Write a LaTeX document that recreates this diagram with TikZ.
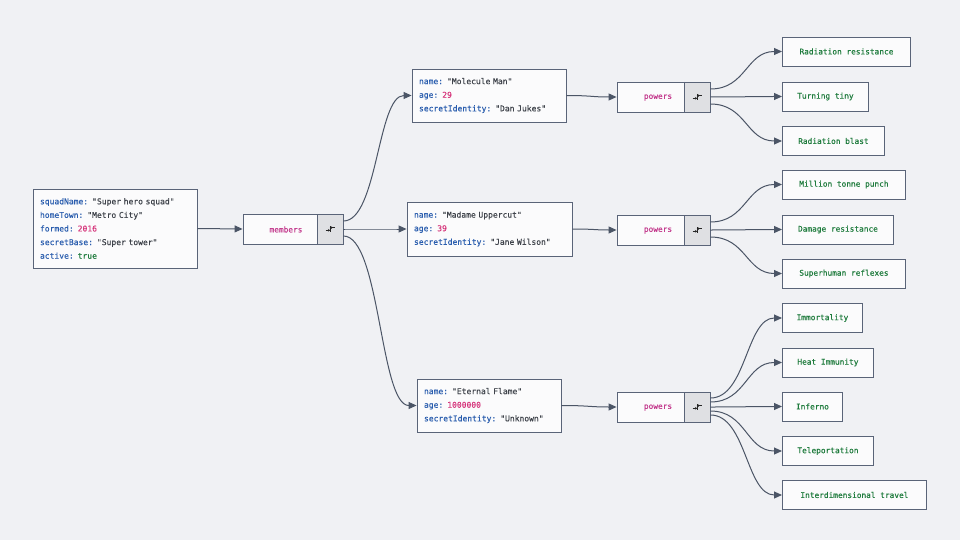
\documentclass[tikz,border=0pt]{standalone}
\usepackage{fontspec}
\newfontfamily\monof[FakeBold=0.3,WordSpace={1,0,0}]{DejaVu Sans Mono}
\usetikzlibrary{calc,arrows.meta}
\definecolor{bg}{HTML}{F0F1F4}
\definecolor{boxfill}{HTML}{FBFBFC}
\definecolor{boxline}{HTML}{5A6478}
\definecolor{togfill}{HTML}{DFE0E3}
\definecolor{edge}{HTML}{4B5566}
\definecolor{keyc}{HTML}{2A5DAE}
\definecolor{strc}{HTML}{3F434B}
\definecolor{numc}{HTML}{D6337A}
\definecolor{grn}{HTML}{1E7B3C}
\definecolor{pinkc}{HTML}{C43B8E}
\newcommand{\K}[1]{\textcolor{keyc}{#1:}}
\newcommand{\Sv}[1]{\textcolor{strc}{"#1"}}
\newcommand{\Nv}[1]{\textcolor{numc}{#1}}
\newcommand{\lnk}[3]{%
  \path ($(#1)!0.5!(#2)$) coordinate (mid#3);
  \draw[link] (#1) .. controls (mid#3 |- #1) and (mid#3 |- #2) .. (#2);}
\begin{document}
\begin{tikzpicture}[x=1pt,y=-1pt,
  box/.style={draw=boxline,fill=boxfill,line width=0.9pt,inner sep=0pt,rectangle},
  obj/.style={box,font=\monof\fontsize{8}{13.6}\selectfont,align=left,inner xsep=7pt},
  leaf/.style={box,font=\monof\fontsize{7.8}{10}\selectfont,text=grn,minimum height=29pt,anchor=west},
  arr/.style={box,minimum width=93pt,minimum height=30pt},
  link/.style={draw=edge,line width=1pt,-{Triangle[length=8pt,width=7pt]}},
  lbl/.style={font=\monof\fontsize{7.8}{10}\selectfont,text=pinkc,inner sep=0pt},
]
\useasboundingbox[fill=bg] (0,0) rectangle (960,540);

% root object
\node[obj,minimum width=164pt,minimum height=79pt,text width=150pt] (root) at (115,228.5) {%
\K{squadName} \Sv{Super hero squad}\\
\K{homeTown} \Sv{Metro City}\\
\K{formed} \Nv{2016}\\
\K{secretBase} \Sv{Super tower}\\
\K{active} \textcolor{grn}{true}};

% members array
\node[box,minimum width=100pt,minimum height=30pt] (mem) at (293,229) {};
\fill[togfill] (317,214.45) rectangle (342.55,243.55);
\draw[boxline,line width=0.9pt] (317,214) -- (317,244);
\draw[boxline,line width=0.9pt] (243,214) rectangle (343,244);
\node[lbl] (memlbl) at (286,229.5) {members};

% member objects
\node[obj,minimum width=154pt,minimum height=53pt,text width=140pt] (m1) at (489,95.5) {%
\K{name} \Sv{Molecule Man}\\
\K{age} \Nv{29}\\
\K{secretIdentity} \Sv{Dan Jukes}};
\node[obj,minimum width=165pt,minimum height=54pt,text width=151pt] (m2) at (489.5,229) {%
\K{name} \Sv{Madame Uppercut}\\
\K{age} \Nv{39}\\
\K{secretIdentity} \Sv{Jane Wilson}};
\node[obj,minimum width=144pt,minimum height=53pt,text width=130pt] (m3) at (489,405.5) {%
\K{name} \Sv{Eternal Flame}\\
\K{age} \Nv{1000000}\\
\K{secretIdentity} \Sv{Unknown}};

% powers arrays
\foreach \i/\y in {1/97,2/230,3/407}{
  \node[arr] (p\i) at (663.5,\y) {};
  \fill[togfill] (684,\y-14.55) rectangle (709.55,\y+14.55);
  \draw[boxline,line width=0.9pt] (684,\y-15) -- (684,\y+15);
  \draw[boxline,line width=0.9pt] (617,\y-15) rectangle (710,\y+15);
  \node[lbl] (pl\i) at (658,\y+0.5) {powers};
}

% toggle icons
\foreach \cx/\cy in {330/229,697/97,697/230,697/407}{
  \draw[black!85,line width=0.7pt,-{Stealth[length=2.2pt,width=2.6pt]}] (\cx-4.5,\cy+1.3) -- (\cx+0.2,\cy+1.3);
  \draw[black!85,line width=0.7pt,-{Stealth[length=2.2pt,width=2.6pt]}] (\cx+4.5,\cy-1.3) -- (\cx-0.2,\cy-1.3);
  \draw[black!85,line width=0.6pt] (\cx,\cy-3) -- (\cx,\cy+3);
}

% leaves
\node[leaf,minimum width=128pt] (l11) at (782,51.5) {Radiation resistance};
\node[leaf,minimum width=86pt]  (l12) at (782,96.5) {Turning tiny};
\node[leaf,minimum width=102pt] (l13) at (782,141) {Radiation blast};
\node[leaf,minimum width=123pt] (l21) at (782,184.5) {Million tonne punch};
\node[leaf,minimum width=111pt] (l22) at (782,229.5) {Damage resistance};
\node[leaf,minimum width=123pt] (l23) at (782,273.5) {Superhuman reflexes};
\node[leaf,minimum width=80pt]  (l31) at (782,318) {Immortality};
\node[leaf,minimum width=91pt]  (l32) at (782,362.5) {Heat Immunity};
\node[leaf,minimum width=60pt]  (l33) at (782,406.5) {Inferno};
\node[leaf,minimum width=91pt]  (l34) at (782,451) {Teleportation};
\node[leaf,minimum width=144pt] (l35) at (782,495) {Interdimensional travel};

% links
\draw[link] (root.east) -- (mem.west);
\coordinate (ms1) at ($(mem.east)+(0,-8)$);
\coordinate (ms2) at (mem.east);
\coordinate (ms3) at ($(mem.east)+(0,7)$);
\lnk{ms1}{m1.west}{a}
\lnk{ms2}{m2.west}{b}
\lnk{ms3}{m3.west}{c}
\lnk{m1.east}{p1.west}{d}
\lnk{m2.east}{p2.west}{e}
\lnk{m3.east}{p3.west}{f}

\coordinate (q11) at ($(p1.east)+(0,-8)$);
\coordinate (q12) at (p1.east);
\coordinate (q13) at ($(p1.east)+(0,7)$);
\lnk{q11}{l11.west}{g}
\lnk{q12}{l12.west}{h}
\lnk{q13}{l13.west}{i}
\coordinate (q21) at ($(p2.east)+(0,-8)$);
\coordinate (q22) at (p2.east);
\coordinate (q23) at ($(p2.east)+(0,7)$);
\lnk{q21}{l21.west}{j}
\lnk{q22}{l22.west}{k}
\lnk{q23}{l23.west}{l}
\coordinate (q31) at ($(p3.east)+(0,-9)$);
\coordinate (q32) at ($(p3.east)+(0,-5)$);
\coordinate (q33) at (p3.east);
\coordinate (q34) at ($(p3.east)+(0,4)$);
\coordinate (q35) at ($(p3.east)+(0,8)$);
\lnk{q31}{l31.west}{m}
\lnk{q32}{l32.west}{n}
\lnk{q33}{l33.west}{o}
\lnk{q34}{l34.west}{p}
\lnk{q35}{l35.west}{q}
\end{tikzpicture}
\end{document}
